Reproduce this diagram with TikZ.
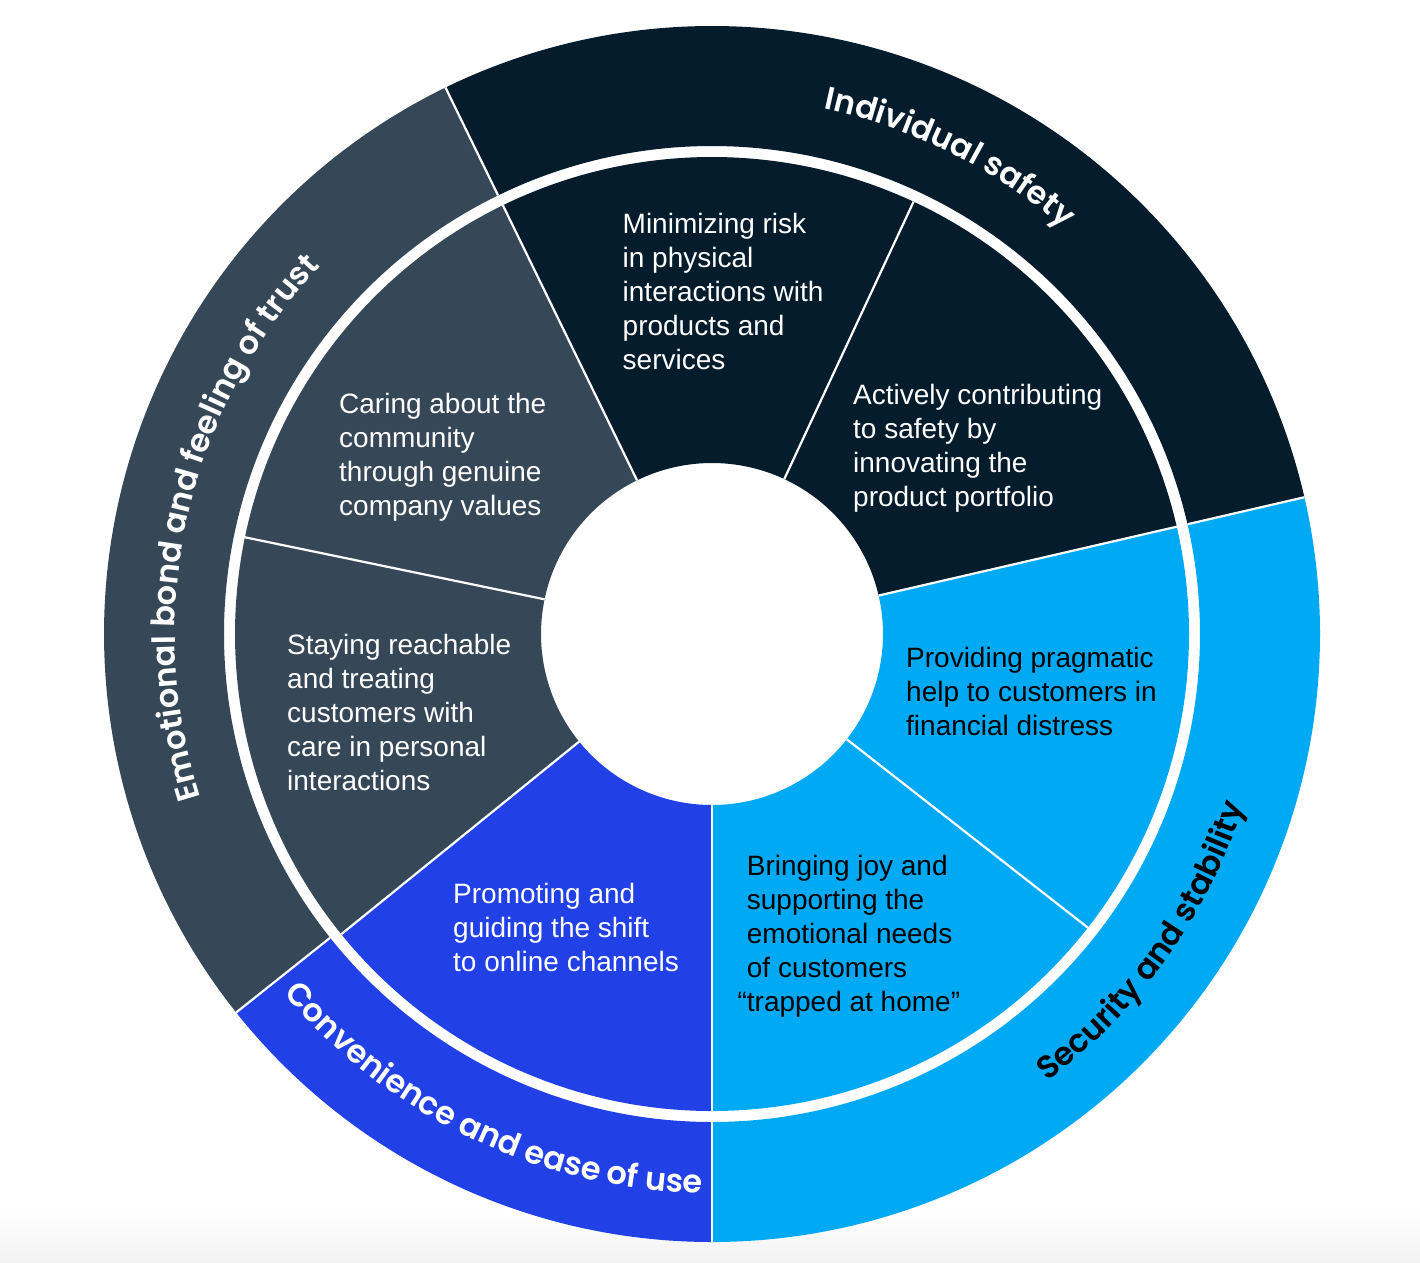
\documentclass[tikz,border=0pt]{standalone}
\usepackage{fontspec}
\setmainfont{Liberation Sans}
\newfontfamily\hfont{Poppins}[BoldFont={Poppins SemiBold}]
\usetikzlibrary{decorations.text}
\definecolor{navy}{HTML}{051C2C}
\definecolor{slate}{HTML}{364857}
\definecolor{royal}{HTML}{2140E6}
\definecolor{sky}{HTML}{00A9F4}
\definecolor{fade}{HTML}{F2F2F2}
% annular sector: colour, start angle, end angle, inner radius, outer radius
\newcommand{\ringpart}[5]{%
  \fill[#1] (#2:#4) arc[start angle=#2, end angle=#3, radius=#4]
    -- (#3:#5) arc[start angle=#3, end angle=#2, radius=#5] -- cycle;}
\newcommand{\lblfont}{\hfont\bfseries\fontsize{32}{32}\selectfont}
\tikzset{
  txt/.style={anchor=base west, inner sep=0pt, font=\fontsize{28}{34}\selectfont},
  sepline/.style={draw=white, line width=2.2pt},
  lbl/.style={decorate, decoration={text along path, text align=center, text color=#1}},
}
\begin{document}
\begin{tikzpicture}[x=1pt, y=1pt]
\useasboundingbox (-712,-628) rectangle (708,634);
\fill[white] (-712,-628) rectangle (708,634);
\shade[top color=white, bottom color=fade] (-712,-576) rectangle (708,-628);

% outer ring
\ringpart{navy}{13}{116}{488pt}{608pt}
\ringpart{slate}{116}{218.5}{488pt}{608pt}
\ringpart{royal}{218.5}{270}{488pt}{608pt}
\ringpart{sky}{270}{373}{488pt}{608pt}

% inner ring
\ringpart{navy}{65}{116}{171pt}{477pt}
\ringpart{navy}{13}{65}{171pt}{477pt}
\ringpart{sky}{-38}{13}{171pt}{477pt}
\ringpart{sky}{-90}{-38}{171pt}{477pt}
\ringpart{royal}{219}{270}{171pt}{477pt}
\ringpart{slate}{168.3}{219}{171pt}{477pt}
\ringpart{slate}{116}{168.3}{171pt}{477pt}

% separators, outer ring
\foreach \a in {13,116,218.5,270} \draw[sepline] (\a:488pt) -- (\a:608pt);
% separators, inner ring
\foreach \a in {116,65,13,-38,-90,219,168.3} \draw[sepline] (\a:171pt) -- (\a:477pt);

% ring labels
\path[lbl=white, decoration={text={|\lblfont|Individual safety}}]
  (116:537pt) arc[start angle=116, end angle=11, radius=537pt];
\path[lbl=white, decoration={text={|\lblfont|Emotional bond and feeling of trust}}]
  (218.5:537pt) arc[start angle=218.5, end angle=116, radius=537pt];
\path[lbl=black, decoration={text={|\lblfont|Security and stability}}]
  (-84:559pt) arc[start angle=-84, end angle=13, radius=559pt];
\path[lbl=white, decoration={text={|\lblfont|Convenience and ease of use}}]
  (219:559pt) arc[start angle=219, end angle=270, radius=559pt];

% segment texts
\node[txt, text=white] (t1) at (-89.5,400.7) {\begin{tabular}[t]{@{}l@{}}Minimizing risk\\in physical\\interactions with\\products and\\services\end{tabular}};
\node[txt, text=white] (t2) at (141,230) {\begin{tabular}[t]{@{}l@{}}Actively contributing\\to safety by\\innovating the\\product portfolio\end{tabular}};
\node[txt, text=white] (t3) at (-373,221) {\begin{tabular}[t]{@{}l@{}}Caring about the\\community\\through genuine\\company values\end{tabular}};
\node[txt, text=white] (t4) at (-425,-20) {\begin{tabular}[t]{@{}l@{}}Staying reachable\\and treating\\customers with\\care in personal\\interactions\end{tabular}};
\node[txt, text=black] (t5) at (194,-33.3) {\begin{tabular}[t]{@{}l@{}}Providing pragmatic\\help to customers in\\financial distress\end{tabular}};
\node[txt, text=black] (t6) at (34.7,-241) {\begin{tabular}[t]{@{}l@{}}Bringing joy and\\supporting the\\emotional needs\\of customers\\\llap{“}trapped at home”\end{tabular}};
\node[txt, text=white] (t7) at (-259,-269) {\begin{tabular}[t]{@{}l@{}}Promoting and\\guiding the shift\\to online channels\end{tabular}};
\end{tikzpicture}
\end{document}
